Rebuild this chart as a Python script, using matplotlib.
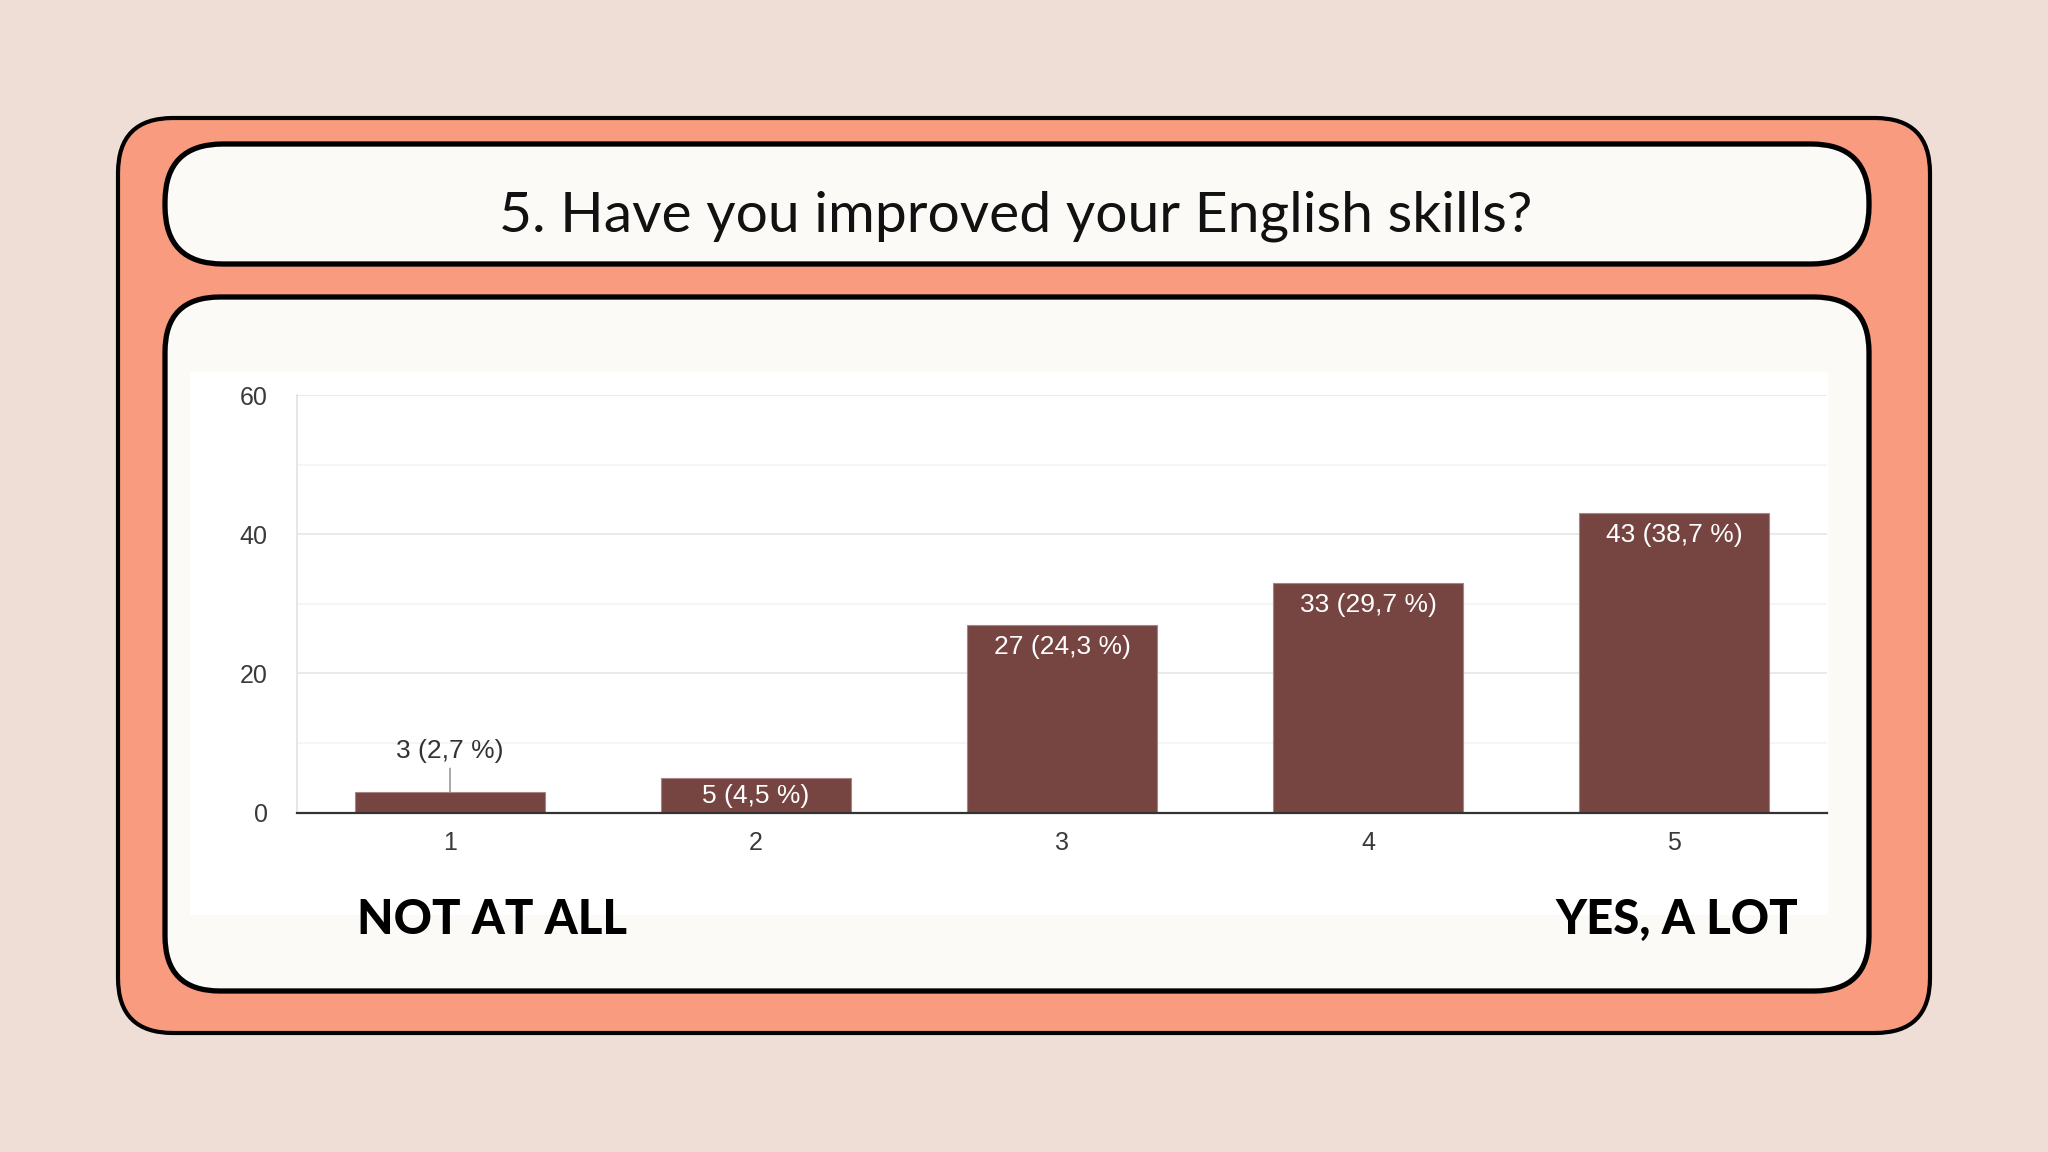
import matplotlib.pyplot as plt
from matplotlib.patches import FancyBboxPatch, Rectangle

# survey answers, 1 = not at all ... 5 = yes, a lot
scores = [1, 2, 3, 4, 5]
counts = [3, 5, 27, 33, 43]
percents = ['2,7', '4,5', '24,3', '29,7', '38,7']
y_ticks = [0, 20, 40, 60]
title = '5. Have you improved your English skills?'
low_label = 'NOT AT ALL'
high_label = 'YES, A LOT'

page_bg = '#efded5'
salmon = '#f99b7e'
card = '#fbfaf7'
bar_color = '#764542'

fig = plt.figure(figsize=(20.48, 11.52), dpi=100)
fig.patch.set_facecolor(page_bg)

# frame layer in pixel units (y grows downward)
bg = fig.add_axes([0, 0, 1, 1])
bg.set_xlim(0, 2048)
bg.set_ylim(1152, 0)
bg.axis('off')

def rounded(x, y, w, h, r, face, lw):
    bg.add_patch(FancyBboxPatch((x, y), w, h, boxstyle=f'round,pad=0,rounding_size={r}',
                                facecolor=face, edgecolor='black', linewidth=lw))

rounded(118, 118, 1812, 915, 55, salmon, 3)
rounded(165, 144, 1704, 120, 58, card, 3.8)
rounded(165, 297, 1704, 694, 55, card, 3.8)
bg.add_patch(Rectangle((190, 372), 1638, 543, facecolor='white', edgecolor='none'))

bg.text(1016, 232, title, ha='center', va='baseline', fontsize=41,
        family=['Lato', 'DejaVu Sans'], fontweight='normal', color='#111111')
bg.text(357, 934, low_label, ha='left', va='baseline', fontsize=34,
        family=['Lato', 'DejaVu Sans'], fontweight='black', color='black')
bg.text(1798, 934, high_label, ha='right', va='baseline', fontsize=34,
        family=['Lato', 'DejaVu Sans'], fontweight='black', color='black')

# the chart itself
ax = fig.add_axes([297 / 2048, 1 - 812.7 / 1152, 1530 / 2048, 417.7 / 1152])
ax.set_facecolor('white')
ax.bar(scores, counts, width=0.62, color=bar_color, edgecolor='#a88583', linewidth=0.8, zorder=3)
ax.set_xlim(0.5, 5.5)
ax.set_ylim(0, 60)
ax.set_yticks(y_ticks)
ax.set_yticks([10, 30, 50], minor=True)
ax.set_xticks(scores)
ax.grid(axis='y', which='major', color='#e6e6e6', linewidth=1.2, zorder=0)
ax.grid(axis='y', which='minor', color='#f3f3f3', linewidth=1.2, zorder=0)
ax.tick_params(axis='both', which='both', length=0, labelsize=18, labelcolor='#3a3a3a',
               labelfontfamily='Liberation Sans')
ax.tick_params(axis='y', pad=21)
ax.tick_params(axis='x', pad=13)
for side in ['top', 'right']:
    ax.spines[side].set_visible(False)
ax.spines['left'].set_color('#e2e2e2')
ax.spines['left'].set_linewidth(1.2)
ax.spines['bottom'].set_color('#333333')
ax.spines['bottom'].set_linewidth(1.6)
ax.spines['bottom'].set_zorder(4)

for x, n, p in zip(scores, counts, percents):
    label = f'{n} ({p} %)'
    if n < 5:
        ax.annotate(label, xy=(x, n), xytext=(0, 41), textcoords='offset pixels',
                    ha='center', va='center', fontsize=19, color='#333333',
                    family='Liberation Sans',
                    arrowprops=dict(arrowstyle='-', color='#999999', lw=1.2,
                                    shrinkA=2, shrinkB=0))
    else:
        off = -18 if n < 10 else -22
        ax.annotate(label, xy=(x, n), xytext=(0, off), textcoords='offset pixels',
                    ha='center', va='center', fontsize=19, color='white',
                    family='Liberation Sans', zorder=5)

fig.savefig('out.png', dpi=100, facecolor=page_bg)
